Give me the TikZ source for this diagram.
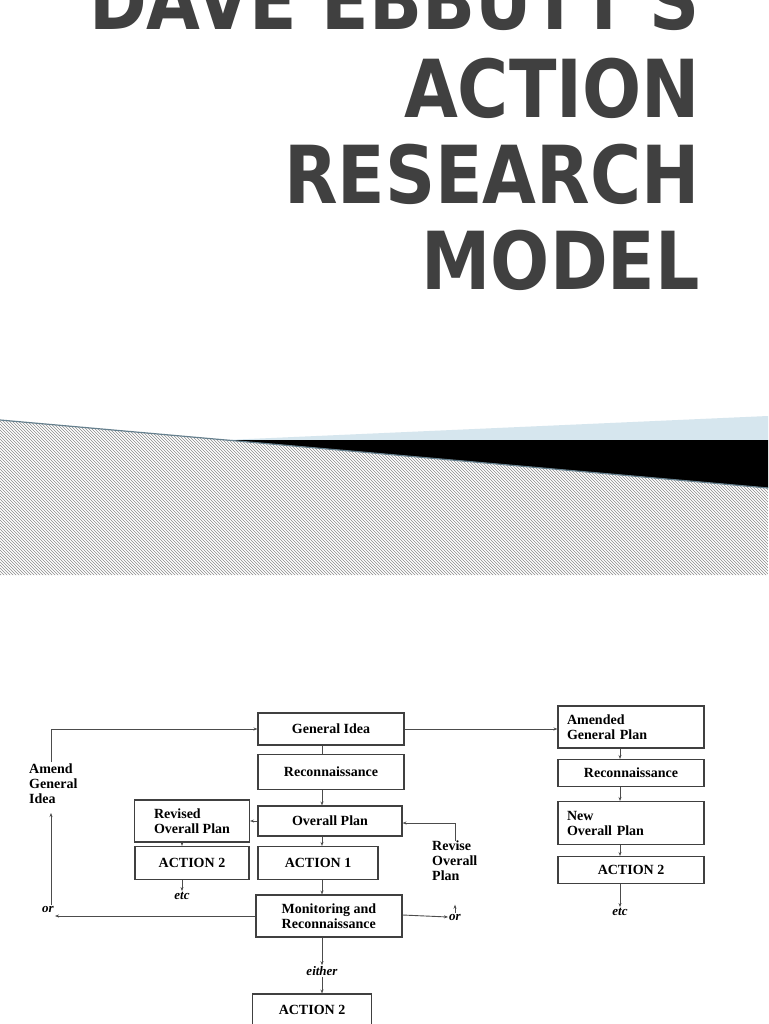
\documentclass[tikz,border=0pt]{standalone}
\usepackage{fontspec}
\setmainfont{Liberation Serif}
\newfontfamily\titlefont{DejaVu Sans}
\usetikzlibrary{patterns,arrows.meta}
\definecolor{titlegray}{HTML}{404040}
\definecolor{lightband}{HTML}{D6E6EE}
\begin{document}
\begin{tikzpicture}[x=1pt,y=-1pt,
  box/.style={draw=black!75,line width=1.1pt,fill=white,minimum height=#1,inner sep=2pt,font=\bfseries\fontsize{14}{15}\selectfont,align=left},
  box/.default=32pt,
  lbl/.style={font=\bfseries\fontsize{14}{15}\selectfont,align=left,inner sep=0pt},
  itl/.style={font=\bfseries\itshape\fontsize{13}{14}\selectfont,inner sep=1pt},
  arr/.style={draw=black!70,line width=0.9pt,-{Stealth[length=4pt,width=3pt]}},
  ln/.style={draw=black!70,line width=0.9pt},
  ttl/.style={anchor=base east,inner sep=0pt,text=titlegray,font=\titlefont\bfseries\fontsize{80}{86}\selectfont}]
\useasboundingbox (0,0) rectangle (768,1024);
\fill[white] (0,0) rectangle (768,1024);
% title
\node[ttl] (t1) at (700,30) {\scalebox{0.87}[1]{DAVE EBBUTT'S}};
\node[ttl] (t2) at (700,118) {\scalebox{0.87}[1]{ACTION}};
\node[ttl] (t3) at (700,204) {\scalebox{0.87}[1]{RESEARCH}};
\node[ttl] (t4) at (700,289) {\scalebox{0.87}[1]{MODEL}};
% band
\fill[lightband] (226,440) -- (768,416) -- (768,440) -- cycle;
\fill[black] (226,440) -- (768,440) -- (768,488) -- cycle;
\fill[white] (0,420) -- (768,488) -- (768,575) -- (0,575) -- cycle;
\fill[pattern=north west lines,pattern color=black!45] (0,420) -- (768,488) -- (768,575) -- (0,575) -- cycle;
\draw[color=black!50!cyan!60!gray,line width=1.2pt] (0,420) -- (768,488);
% boxes centre column
\node[box,minimum width=146pt,minimum height=32pt] (gi) at (331,729) {General Idea};
\node[box,minimum width=146pt,minimum height=35pt] (rc) at (331,772) {Reconnaissance};
\node[box,minimum width=144pt,minimum height=30pt] (op) at (330,821) {Overall Plan};
\node[box,minimum width=120pt,minimum height=33pt] (a1) at (318,863) {ACTION 1};
\node[box,minimum width=146pt,minimum height=42pt] (mr) at (329,916) {Monitoring and\\Reconnaissance};
\node[box,minimum width=119pt,minimum height=32pt] (a2b) at (312,1010) {ACTION 2};
% left column
\node[box,minimum width=115pt,minimum height=42pt] (rop) at (192,821) {Revised\\Overall Plan};
\node[box,minimum width=114pt,minimum height=33pt] (a2l) at (192,863) {ACTION 2};
\node[itl] (etcl) at (182,896) {etc};
\node[lbl,anchor=north west] (agi) at (29,764) {Amend\\General\\Idea};
\node[itl] (orl) at (48,909) {or};
% right column
\node[box,minimum width=146pt,minimum height=42pt,text width=128pt] (agp) at (631,727) {Amended\\General Plan};
\node[box,minimum width=146pt,minimum height=27pt] (rc2) at (631,773) {Reconnaissance};
\node[box,minimum width=146pt,minimum height=43pt,text width=128pt] (nop) at (631,823) {New\\Overall Plan};
\node[box,minimum width=146pt,minimum height=27pt] (a22) at (631,870) {ACTION 2};
\node[itl] (etcr) at (620,912) {etc};
\node[lbl,anchor=north west] (rvo) at (432,841) {Revise\\Overall\\Plan};
\node[itl] (orr) at (455,917) {or};
\node[itl] (eith) at (322,971) {either};
% connectors
\draw[ln] (gi.south -| 322,0) -- (rc.north -| 322,0);
\draw[arr] (rc.south -| 322,0) -- (op.north -| 322,0);
\draw[arr] (op.south -| 322,0) -- (a1.north -| 322,0);
\draw[arr] (a1.south -| 322,0) -- (mr.north -| 322,0);
\draw[arr] (op.west) -- (rop.east |- op.west);
\draw[arr] (rop.south -| 182,0) -- (a2l.north -| 182,0);
\draw[arr] (a2l.south -| etcl) -- (etcl);
\draw[arr] (mr.south -| eith) -- (eith);
\draw[arr] (eith) -- (a2b.north -| eith);
\draw[arr] (mr.west) -- (orl.east |- mr.west);
\coordinate (agb) at (51,813);
\coordinate (agt) at (51,762);
\draw[arr] (51,905) -- (agb);
\draw[arr] (agt) -- (51,729) -- (gi.west);
\draw[arr] (gi.east) -- (agp.west |- gi.east);
\draw[arr] (agp.south -| 620,0) -- (rc2.north -| 620,0);
\draw[arr] (rc2.south -| 620,0) -- (nop.north -| 620,0);
\draw[arr] (nop.south -| 620,0) -- (a22.north -| 620,0);
\draw[arr] (a22.south -| etcr) -- (etcr);
\draw[arr] (rvo.north -| 455,0) -- (455,823) -- (op.east |- 0,823);
\draw[arr] (mr.east |- 0,915) -- (orr.west);
\draw[arr] (orr.north) -- ++(0,-8);
\end{tikzpicture}
\end{document}
